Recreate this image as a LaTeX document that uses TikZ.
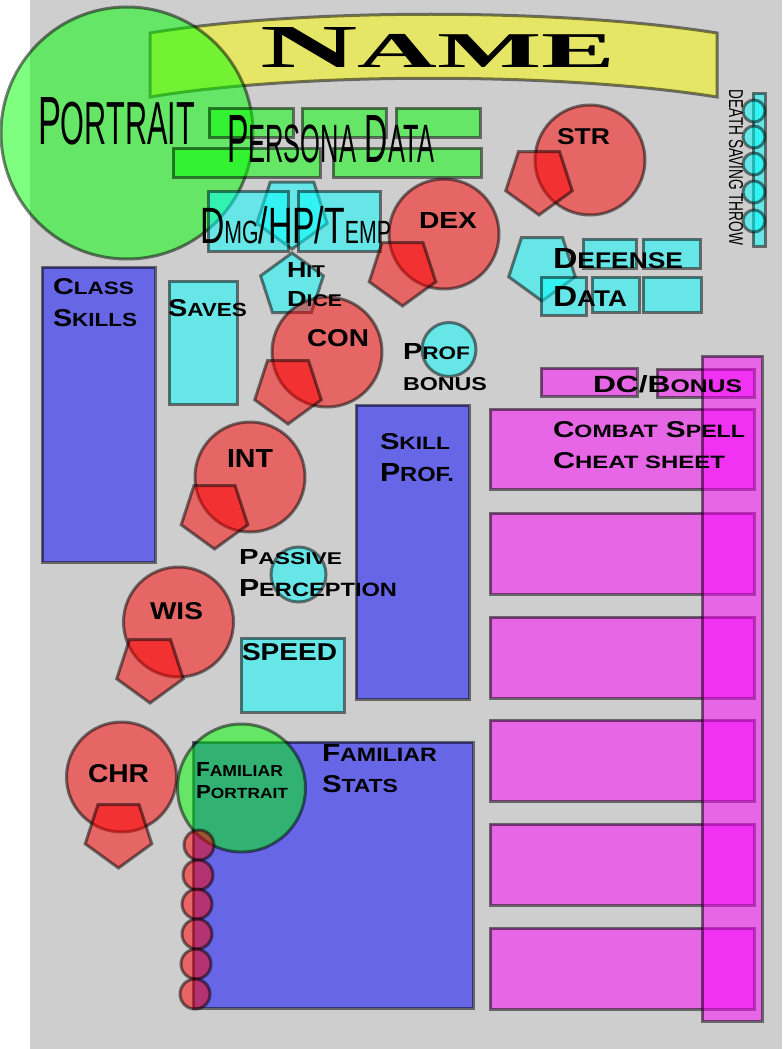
\documentclass[tikz,border=0pt]{standalone}
\usepackage{fontspec}
\setmainfont{Liberation Sans}
\newfontfamily\namefont{Liberation Serif}
\usepackage{graphicx}
\definecolor{bgc}{RGB}{206,206,206}
\definecolor{cR}{RGB}{255,0,0}
\definecolor{cG}{RGB}{0,255,0}
\definecolor{cC}{RGB}{0,255,255}
\definecolor{cB}{RGB}{0,0,255}
\definecolor{cM}{RGB}{255,0,255}
\definecolor{cY}{RGB}{255,255,0}
\tikzset{
  shp/.style={draw=black, draw opacity=0.5, fill opacity=0.5, line width=3pt},
  rd/.style={shp, fill=cR}, gr/.style={shp, fill=cG}, cy/.style={shp, fill=cC},
  bl/.style={shp, fill=cB}, mg/.style={shp, fill=cM}, yl/.style={shp, fill=cY},
  lbl/.style={anchor=base west, inner sep=0pt, outer sep=0pt, text=black}
}
\newcommand{\smc}[2][0.78]{\scalebox{#1}{#2}}
% condensed labels
\newcommand{\lab}[6]{\node[lbl] (#1) at (#2,#3) {\resizebox{#4pt}{#5pt}{#6}};}
% copperplate-like labels (bold)
\newcommand{\cpl}[6]{\node[lbl] (#1) at (#2,#3) {\resizebox{#4pt}{#5pt}{\bfseries #6}};}
% pentagon pointing down / up: cx, cy, R, style
\newcommand{\pentdown}[4]{\path[#4, shift={(#1,#2)}] (90:#3) -- (162:#3) -- (234:#3) -- (306:#3) -- (18:#3) -- cycle;}
\newcommand{\pentup}[4]{\path[#4, shift={(#1,#2)}] (270:#3) -- (342:#3) -- (54:#3) -- (126:#3) -- (198:#3) -- cycle;}
\begin{document}
\begin{tikzpicture}[x=1pt,y=-1pt]
\useasboundingbox (0,0) rectangle (782,1049);
\fill[white] (0,0) rectangle (782,1049);
\fill[bgc] (30,0) rectangle (782,1049);

% name banner
\path[yl] (150,33) .. controls (300,8) and (560,8) .. (717,33) -- (717,97) .. controls (560,72) and (300,72) .. (150,97) -- cycle;
% portrait
\path[gr] (127,133) circle (126);
% persona rects
\path[gr] (209,108) rectangle (293,137);
\path[gr] (302,108) rectangle (386,137);
\path[gr] (396,108) rectangle (480,137);
\path[gr] (173,148) rectangle (320,177);
\path[gr] (333,148) rectangle (481,177);
% dmg area
\pentdown{292}{212}{37}{cy}
\path[cy] (208,191) rectangle (288,251);
\path[cy] (298,191) rectangle (380,251);
\pentup{292}{286}{33}{cy}
% death saving throws
\path[cy] (753,93) rectangle (765,246);
\foreach \yy in {111,137,164,192,221} { \path[cy] (754,\yy) circle (11); }
% defense
\pentdown{542}{266}{35}{cy}
\path[cy] (583,239) rectangle (636,268);
\path[cy] (643,239) rectangle (700,268);
\path[cy] (541,277) rectangle (586,315);
\path[cy] (592,277) rectangle (639,312);
\path[cy] (643,277) rectangle (701,312);
% blue boxes
\path[bl] (42,267) rectangle (155,562);
\path[bl] (356,405) rectangle (469,699);
% saves, prof, passive, speed
\path[cy] (169,281) rectangle (237,404);
\path[cy] (449,349.5) circle (27);
\path[cy] (298.5,574.5) circle (27.5);
\path[cy] (241,638) rectangle (344,712);
% magenta
\path[mg] (541,368) rectangle (637,396);
\path[mg] (657,369) rectangle (754,397);
\path[mg] (490,409) rectangle (754,489);
\path[mg] (490,513) rectangle (754,594);
\path[mg] (490,617) rectangle (754,698);
\path[mg] (490,720) rectangle (754,801);
\path[mg] (490,824) rectangle (754,905);
\path[mg] (490,928) rectangle (754,1009);
\path[mg] (702,356) rectangle (762,1021);
% abilities
\path[rd] (590,160) circle (55);   \pentdown{539}{180}{35}{rd}
\path[rd] (444,234) circle (55);   \pentdown{402.5}{271}{35}{rd}
\path[rd] (327,352) circle (55);   \pentdown{288}{389}{35}{rd}
\path[rd] (250,477) circle (55);   \pentdown{214.5}{514}{35}{rd}
\path[rd] (178.5,622) circle (55); \pentdown{150}{668}{35}{rd}
\path[rd] (121.5,777) circle (55); \pentdown{118.5}{833}{35}{rd}
% familiar
\path[bl] (193,742) rectangle (473,1008);
\path[gr] (241.5,788) circle (64);
\path[rd] (199,845) circle (15);
\path[rd] (198,875) circle (15);
\path[rd] (197,904) circle (15);
\path[rd] (197,934) circle (15);
\path[rd] (196,964) circle (15);
\path[rd] (195,994) circle (15);

% labels
\node[lbl] (name) at (260,68) {\resizebox{355pt}{40pt}{\namefont\bfseries N\smc[0.82]{AME}}};
\lab{portrait}{38}{144}{157}{47}{P\smc[0.89]{ORTRAIT}}
\lab{persona}{227}{162}{207}{47}{P\smc[0.79]{ERSONA} D\smc[0.79]{ATA}}
\lab{dmg}{200}{243}{191}{37}{D\smc[0.63]{MG}/HP/T\smc[0.63]{EMP}}
\node[inner sep=0pt, rotate=-90] (death) at (736,167.5) {\resizebox{155pt}{14pt}{DEATH SAVING THROW}};
\cpl{class}{53}{294}{81}{16}{C\smc{LASS}}
\cpl{skills}{53}{326}{84}{17}{S\smc{KILLS}}
\cpl{saves}{168}{316}{79}{17}{S\smc{AVES}}
\cpl{hit}{287}{277}{38}{15}{H\smc{IT}}
\cpl{dice}{287}{306}{55}{15}{D\smc{ICE}}
\cpl{str}{557}{144}{53}{16}{STR}
\cpl{dex}{419}{228}{58}{16}{DEX}
\cpl{con}{307}{346}{62}{17}{CON}
\cpl{int}{227}{467}{46}{18}{INT}
\cpl{wis}{150}{619}{53}{17}{WIS}
\cpl{chr}{88}{782}{61}{18}{CHR}
\cpl{speed}{242}{660}{95}{17}{SPEED}
\cpl{prof}{403}{359}{67}{16}{P\smc{ROF}}
\cpl{bonus}{403}{390}{84}{13}{BONUS}
\cpl{skill}{380}{449}{70}{16}{S\smc{KILL}}
\cpl{profd}{380}{481}{74}{18}{P\smc{ROF.}}
\cpl{defense}{553}{268}{130}{20}{D\smc{EFENSE}}
\cpl{data}{553}{306}{74}{20}{D\smc{ATA}}
\cpl{dcbonus}{593}{392}{149}{17}{DC/B\smc{ONUS}}
\cpl{combat}{553}{437}{192}{16}{C\smc{OMBAT} S\smc{PELL}}
\cpl{cheat}{553}{468}{172}{16}{C\smc{HEAT SHEET}}
\cpl{passive}{239}{564}{103}{15}{P\smc{ASSIVE}}
\cpl{perception}{239}{596}{158}{17}{P\smc{ERCEPTION}}
\cpl{famp}{196}{776}{87}{14}{F\smc{AMILIAR}}
\cpl{famport}{196}{798}{92}{13}{P\smc{ORTRAIT}}
\cpl{fams}{322}{761}{115}{17}{F\smc{AMILIAR}}
\cpl{stats}{322}{792}{76}{17}{S\smc{TATS}}
\end{tikzpicture}
\end{document}
